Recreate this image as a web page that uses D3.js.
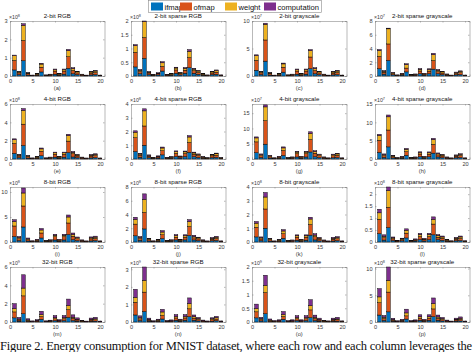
<!DOCTYPE html>
<html lang="en">
<head>
<meta charset="UTF-8">
<script src="https://d3js.org/d3.v7.min.js"></script>
<style>
  body {margin: 0; background: #fff;}
  svg {display: block; font-family: "Liberation Sans", Arial, sans-serif;}
  .axis path, .axis line {stroke: #8a8a8a; stroke-width: 0.6px;}
  .axis text {fill: #3a3a3a; font-size: 5.6px;}
  .caption {font-family: "Liberation Serif", "Times New Roman", serif; font-size: 12.5px; fill: #111;}
</style>
</head>
<body>
<svg id="chart" width="474" height="352"></svg>
<script>
// layers on the x axis
const layers = [1,2,3,4,5,6,7,8,9,10,11,12,13,14,15,16,17,18,19,20];
const keys = ['ifmap', 'ofmap', 'weight', 'computation'];
const colors = ['#0072BD', '#D95319', '#EDB120', '#7E2F8E'];

const titles = ['2-bit RGB', '2-bit sparse RGB', '2-bit grayscale', '2-bit sparse grayscale',
  '4-bit RGB', '4-bit sparse RGB', '4-bit grayscale', '4-bit sparse grayscale',
  '8-bit RGB', '8-bit sparse RGB', '8-bit grayscale', '8-bit sparse grayscale',
  '32-bit RGB', '32-bit sparse RGB', '32-bit grayscale', '32-bit sparse grayscale'];
const subLabels = ['(a)','(b)','(c)','(d)','(e)','(f)','(g)','(h)','(i)','(j)','(k)','(l)','(m)','(n)','(o)','(p)'];
const yMax = [3, 2, 10, 8, 6, 4, 18, 15, 11, 8, 4, 2.3, 6, 3.13, 2, 10.3];
const yTicks = [[0,1,2,3], [0,0.5,1,1.5,2], [0,5,10], [0,2,4,6,8],
  [0,2,4,6], [0,1,2,3,4], [0,5,10,15], [0,5,10,15],
  [0,5,10], [0,2,4,6,8], [0,1,2,3,4], [0,0.5,1,1.5,2],
  [0,2,4,6], [0,1,2,3], [0,0.5,1,1.5,2], [0,5,10]];
const yExp = [8, 8, 7, 7, 8, 8, 7, 7, 8, 8, 8, 8, 9, 9, 9, 8];
const xTicks = [0, 5, 10, 15, 20];

// (a) 2-bit RGB
const a_ifmap  = [0.33,0.08,0.83,0.05,0.02,0.04,0.22,0.02,0.03,0.10,0.04,0.10,0.42,0.12,0.07,0.03,0.01,0.06,0.07,0.01];
const a_ofmap  = [0.52,0.09,1.11,0.07,0.01,0.05,0.26,0.02,0.04,0.17,0.05,0.17,0.63,0.18,0.10,0.04,0.02,0.10,0.12,0.02];
const a_weight = [0.26,0.05,0.83,0.04,0.01,0.03,0.17,0.01,0.02,0.08,0.03,0.08,0.33,0.10,0.06,0.02,0.01,0.06,0.08,0.01];
const a_comp   = [0.03,0.02,0.08,0.02,0.01,0.01,0.04,0.01,0.01,0.03,0.01,0.03,0.07,0.05,0.02,0.01,0.01,0.03,0.03,0.01];
// (b) 2-bit sparse RGB
const b_ifmap  = [0.33,0.08,0.64,0.05,0.02,0.04,0.18,0.02,0.03,0.10,0.04,0.10,0.30,0.10,0.06,0.03,0.01,0.05,0.06,0.01];
const b_ofmap  = [0.53,0.08,0.76,0.06,0.01,0.04,0.17,0.02,0.03,0.12,0.04,0.11,0.37,0.09,0.07,0.03,0.01,0.06,0.08,0.01];
const b_weight = [0.24,0.05,0.58,0.03,0.01,0.02,0.13,0.01,0.02,0.07,0.03,0.07,0.23,0.06,0.05,0.02,0.01,0.04,0.06,0.01];
const b_comp   = [0.04,0.03,0.04,0.02,0.01,0.02,0.04,0.01,0.01,0.03,0.01,0.03,0.06,0.03,0.02,0.01,0.01,0.02,0.02,0.01];
// (c) 2-bit grayscale
const c_ifmap  = [1.05,0.27,2.70,0.17,0.06,0.13,0.70,0.07,0.10,0.33,0.13,0.33,1.35,0.40,0.23,0.10,0.04,0.20,0.23,0.04];
const c_ofmap  = [1.80,0.30,3.85,0.23,0.04,0.17,0.90,0.07,0.13,0.57,0.17,0.57,2.10,0.60,0.33,0.13,0.07,0.33,0.40,0.07];
const c_weight = [0.85,0.17,2.85,0.14,0.03,0.10,0.60,0.04,0.07,0.27,0.10,0.27,1.15,0.33,0.20,0.07,0.03,0.20,0.27,0.03];
const c_comp   = [0.15,0.08,0.20,0.06,0.03,0.04,0.15,0.03,0.04,0.10,0.04,0.10,0.20,0.17,0.07,0.04,0.03,0.10,0.10,0.03];
// (d) 2-bit sparse grayscale
const d_ifmap  = [1.05,0.27,2.26,0.17,0.06,0.13,0.60,0.07,0.10,0.33,0.13,0.33,1.00,0.33,0.20,0.10,0.04,0.17,0.20,0.04];
const d_ofmap  = [1.80,0.28,2.40,0.20,0.04,0.14,0.55,0.06,0.10,0.40,0.14,0.38,1.25,0.30,0.23,0.10,0.04,0.20,0.28,0.04];
const d_weight = [0.85,0.15,2.20,0.10,0.03,0.08,0.50,0.04,0.06,0.25,0.08,0.24,0.85,0.20,0.17,0.06,0.03,0.13,0.20,0.03];
const d_comp   = [0.15,0.08,0.10,0.06,0.03,0.05,0.13,0.03,0.04,0.10,0.04,0.10,0.20,0.12,0.07,0.04,0.03,0.07,0.07,0.03];
// (e) 4-bit RGB
const e_ifmap  = [0.62,0.15,1.47,0.10,0.04,0.08,0.35,0.04,0.06,0.20,0.08,0.20,0.70,0.22,0.13,0.06,0.03,0.12,0.14,0.03];
const e_ofmap  = [1.08,0.18,2.33,0.15,0.03,0.10,0.50,0.04,0.08,0.33,0.10,0.33,1.25,0.35,0.20,0.08,0.04,0.20,0.23,0.04];
const e_weight = [0.40,0.10,1.50,0.07,0.02,0.05,0.25,0.02,0.04,0.15,0.05,0.15,0.60,0.15,0.10,0.04,0.02,0.10,0.13,0.02];
const e_comp   = [0.10,0.07,0.20,0.05,0.03,0.04,0.10,0.03,0.03,0.07,0.04,0.07,0.15,0.10,0.05,0.03,0.02,0.06,0.07,0.02];
// (f) 4-bit sparse RGB
const f_ifmap  = [0.55,0.13,1.00,0.09,0.04,0.07,0.30,0.04,0.05,0.18,0.07,0.18,0.48,0.17,0.11,0.05,0.02,0.10,0.12,0.02];
const f_ofmap  = [1.00,0.15,1.40,0.11,0.02,0.08,0.30,0.03,0.06,0.23,0.08,0.22,0.72,0.17,0.14,0.06,0.03,0.13,0.16,0.03];
const f_weight = [0.40,0.08,1.10,0.05,0.02,0.04,0.20,0.02,0.03,0.12,0.04,0.12,0.40,0.10,0.08,0.03,0.02,0.07,0.10,0.02];
const f_comp   = [0.10,0.06,0.15,0.05,0.02,0.04,0.07,0.02,0.03,0.06,0.03,0.06,0.10,0.06,0.04,0.03,0.02,0.04,0.05,0.02];
// (g) 4-bit grayscale
const g_ifmap  = [2.05,0.50,4.85,0.33,0.13,0.26,1.15,0.13,0.20,0.66,0.26,0.66,2.30,0.73,0.43,0.20,0.10,0.40,0.46,0.10];
const g_ofmap  = [3.55,0.60,7.70,0.50,0.10,0.33,1.65,0.13,0.26,1.10,0.33,1.10,4.10,1.15,0.66,0.26,0.13,0.66,0.76,0.13];
const g_weight = [1.30,0.33,4.50,0.23,0.07,0.17,0.83,0.07,0.13,0.50,0.17,0.50,2.00,0.50,0.33,0.13,0.07,0.33,0.43,0.07];
const g_comp   = [0.33,0.23,0.66,0.17,0.10,0.13,0.33,0.10,0.10,0.23,0.13,0.23,0.50,0.33,0.17,0.10,0.07,0.20,0.23,0.07];
// (h) 4-bit sparse grayscale
const h_ifmap  = [1.80,0.43,3.30,0.30,0.13,0.23,1.00,0.13,0.17,0.60,0.23,0.60,1.60,0.56,0.36,0.17,0.07,0.33,0.40,0.07];
const h_ofmap  = [3.30,0.50,4.60,0.36,0.07,0.26,1.00,0.10,0.20,0.76,0.26,0.73,2.40,0.56,0.46,0.20,0.10,0.43,0.53,0.10];
const h_weight = [1.30,0.26,3.60,0.17,0.07,0.13,0.66,0.07,0.10,0.40,0.13,0.40,1.30,0.33,0.26,0.10,0.07,0.23,0.33,0.07];
const h_comp   = [0.33,0.20,0.50,0.17,0.07,0.13,0.23,0.07,0.10,0.20,0.10,0.20,0.33,0.20,0.13,0.10,0.07,0.13,0.17,0.07];
// (i) 8-bit RGB
const i_ifmap  = [1.10,0.30,3.00,0.20,0.08,0.15,0.80,0.08,0.12,0.40,0.15,0.40,1.50,0.45,0.25,0.12,0.05,0.22,0.27,0.05];
const i_ofmap  = [2.10,0.35,4.20,0.30,0.06,0.20,1.00,0.08,0.15,0.65,0.20,0.65,2.30,0.70,0.40,0.15,0.08,0.40,0.45,0.08];
const i_weight = [0.90,0.25,2.60,0.15,0.04,0.10,0.60,0.05,0.08,0.30,0.10,0.30,1.20,0.35,0.20,0.08,0.04,0.20,0.25,0.04];
const i_comp   = [0.35,0.20,1.00,0.15,0.06,0.10,0.30,0.06,0.10,0.20,0.10,0.20,0.40,0.30,0.15,0.08,0.05,0.20,0.20,0.05];
// (j) 8-bit sparse RGB
const j_ifmap  = [0.90,0.25,1.90,0.15,0.06,0.12,0.50,0.06,0.10,0.30,0.12,0.30,0.95,0.30,0.20,0.10,0.04,0.18,0.22,0.04];
const j_ofmap  = [1.70,0.25,2.40,0.20,0.04,0.13,0.55,0.06,0.10,0.40,0.13,0.38,1.30,0.30,0.25,0.10,0.05,0.23,0.30,0.05];
const j_weight = [0.70,0.15,1.90,0.10,0.03,0.07,0.40,0.04,0.06,0.22,0.07,0.22,0.70,0.18,0.15,0.06,0.03,0.13,0.18,0.03];
const j_comp   = [0.30,0.15,0.80,0.10,0.04,0.07,0.20,0.04,0.07,0.15,0.07,0.15,0.30,0.20,0.10,0.06,0.04,0.12,0.13,0.04];
// (k) 8-bit grayscale
const k_ifmap  = [0.37,0.10,1.00,0.07,0.03,0.05,0.27,0.03,0.04,0.13,0.05,0.13,0.50,0.15,0.08,0.04,0.02,0.07,0.09,0.02];
const k_ofmap  = [0.70,0.12,1.40,0.10,0.02,0.07,0.33,0.03,0.05,0.22,0.07,0.22,0.77,0.23,0.13,0.05,0.03,0.13,0.15,0.03];
const k_weight = [0.30,0.08,0.87,0.05,0.01,0.03,0.20,0.02,0.03,0.10,0.03,0.10,0.40,0.12,0.07,0.03,0.01,0.07,0.08,0.01];
const k_comp   = [0.12,0.07,0.33,0.05,0.02,0.03,0.10,0.02,0.03,0.07,0.03,0.07,0.13,0.10,0.05,0.03,0.02,0.07,0.07,0.02];
// (l) 8-bit sparse grayscale
const l_ifmap  = [0.35,0.08,0.60,0.06,0.02,0.05,0.17,0.02,0.04,0.10,0.04,0.10,0.30,0.10,0.07,0.03,0.01,0.05,0.06,0.01];
const l_ofmap  = [0.60,0.10,0.85,0.07,0.02,0.05,0.20,0.02,0.04,0.13,0.05,0.13,0.45,0.10,0.09,0.04,0.02,0.07,0.09,0.02];
const l_weight = [0.27,0.06,0.70,0.04,0.01,0.03,0.12,0.01,0.02,0.08,0.03,0.08,0.20,0.06,0.05,0.02,0.01,0.04,0.06,0.01];
const l_comp   = [0.15,0.06,0.15,0.04,0.02,0.03,0.06,0.02,0.03,0.05,0.03,0.05,0.10,0.05,0.04,0.02,0.01,0.03,0.04,0.01];
// (m) 32-bit RGB
const m_ifmap  = [0.45,0.10,0.90,0.07,0.03,0.05,0.30,0.03,0.04,0.14,0.05,0.14,0.50,0.15,0.09,0.04,0.02,0.08,0.10,0.02];
const m_ofmap  = [0.65,0.12,1.95,0.09,0.02,0.07,0.30,0.03,0.05,0.22,0.07,0.22,0.85,0.25,0.13,0.05,0.03,0.13,0.15,0.03];
const m_weight = [0.35,0.10,0.85,0.06,0.02,0.04,0.20,0.02,0.03,0.10,0.04,0.10,0.45,0.12,0.07,0.03,0.01,0.07,0.09,0.01];
const m_comp   = [0.55,0.18,1.45,0.13,0.05,0.10,0.37,0.05,0.08,0.24,0.10,0.24,0.70,0.26,0.16,0.06,0.04,0.15,0.17,0.04];
// (n) 32-bit sparse RGB
const n_ifmap  = [0.40,0.08,0.60,0.05,0.02,0.04,0.17,0.02,0.03,0.10,0.04,0.10,0.30,0.10,0.06,0.03,0.01,0.05,0.07,0.01];
const n_ofmap  = [0.72,0.10,1.10,0.06,0.01,0.04,0.20,0.02,0.03,0.13,0.04,0.13,0.45,0.12,0.08,0.03,0.02,0.08,0.10,0.02];
const n_weight = [0.28,0.07,0.67,0.04,0.01,0.03,0.20,0.01,0.02,0.08,0.03,0.08,0.30,0.08,0.05,0.02,0.01,0.05,0.07,0.01];
const n_comp   = [0.46,0.10,0.76,0.07,0.03,0.05,0.15,0.03,0.04,0.11,0.05,0.11,0.32,0.10,0.07,0.03,0.02,0.06,0.08,0.02];
// (o) 32-bit grayscale
const o_ifmap  = [0.15,0.04,0.30,0.02,0.01,0.02,0.10,0.01,0.02,0.05,0.02,0.05,0.16,0.05,0.03,0.01,0.01,0.03,0.03,0.01];
const o_ofmap  = [0.22,0.05,0.77,0.03,0.01,0.02,0.10,0.01,0.02,0.07,0.02,0.07,0.28,0.08,0.04,0.02,0.01,0.04,0.05,0.01];
const o_weight = [0.12,0.03,0.26,0.02,0.01,0.01,0.07,0.01,0.01,0.04,0.01,0.04,0.15,0.04,0.02,0.01,0.01,0.02,0.03,0.01];
const o_comp   = [0.16,0.05,0.37,0.04,0.02,0.03,0.11,0.02,0.03,0.07,0.03,0.07,0.22,0.08,0.05,0.02,0.01,0.05,0.06,0.01];
// (p) 32-bit sparse grayscale
const p_ifmap  = [1.30,0.30,1.90,0.15,0.06,0.12,0.55,0.06,0.10,0.33,0.12,0.33,1.00,0.33,0.20,0.10,0.04,0.17,0.20,0.04];
const p_ofmap  = [2.30,0.35,3.70,0.20,0.04,0.14,0.60,0.06,0.10,0.40,0.14,0.40,1.45,0.35,0.25,0.10,0.05,0.22,0.30,0.05];
const p_weight = [1.10,0.25,2.20,0.12,0.03,0.08,0.55,0.04,0.06,0.25,0.08,0.25,1.00,0.25,0.17,0.06,0.03,0.13,0.20,0.03];
const p_comp   = [1.55,0.30,2.50,0.23,0.10,0.16,0.70,0.10,0.14,0.37,0.16,0.37,1.05,0.37,0.23,0.10,0.06,0.20,0.25,0.06];

const panelSeries = [
  [a_ifmap, a_ofmap, a_weight, a_comp], [b_ifmap, b_ofmap, b_weight, b_comp],
  [c_ifmap, c_ofmap, c_weight, c_comp], [d_ifmap, d_ofmap, d_weight, d_comp],
  [e_ifmap, e_ofmap, e_weight, e_comp], [f_ifmap, f_ofmap, f_weight, f_comp],
  [g_ifmap, g_ofmap, g_weight, g_comp], [h_ifmap, h_ofmap, h_weight, h_comp],
  [i_ifmap, i_ofmap, i_weight, i_comp], [j_ifmap, j_ofmap, j_weight, j_comp],
  [k_ifmap, k_ofmap, k_weight, k_comp], [l_ifmap, l_ofmap, l_weight, l_comp],
  [m_ifmap, m_ofmap, m_weight, m_comp], [n_ifmap, n_ofmap, n_weight, n_comp],
  [o_ifmap, o_ofmap, o_weight, o_comp], [p_ifmap, p_ofmap, p_weight, p_comp]];

// layout of the 4x4 grid
const colX = [10, 131, 252, 375];
const rowTop = [21, 104, 187, 267];
const plotW = 94.5, plotH = 55;

const svg = d3.select('#chart');

panelSeries.forEach((series, p) => {
  const x0 = colX[p % 4], y0 = rowTop[Math.floor(p / 4)];
  const g = svg.append('g');

  const x = d3.scaleLinear().domain([0, 21]).range([x0, x0 + plotW]);
  const y = d3.scaleLinear().domain([0, yMax[p]]).range([y0 + plotH, y0]);

  const table = layers.map((l, i) => {
    const row = {layer: l};
    keys.forEach((k, s) => row[k] = series[s][i]);
    return row;
  });
  const stacked = d3.stack().keys(keys)(table);

  // box + ticks
  g.append('g').attr('class', 'axis')
    .attr('transform', `translate(0,${y0 + plotH})`)
    .call(d3.axisBottom(x).tickValues(xTicks).tickSize(-1.5).tickPadding(3).tickFormat(d => d));
  g.append('g').attr('class', 'axis')
    .attr('transform', `translate(0,${y0})`)
    .call(d3.axisTop(x).tickValues(xTicks).tickSize(-1.5).tickFormat(''));
  g.append('g').attr('class', 'axis')
    .attr('transform', `translate(${x0},0)`)
    .call(d3.axisLeft(y).tickValues(yTicks[p]).tickSize(-1.5).tickPadding(2.5).tickFormat(d => d));
  g.append('g').attr('class', 'axis')
    .attr('transform', `translate(${x0 + plotW},0)`)
    .call(d3.axisRight(y).tickValues(yTicks[p]).tickSize(-1.5).tickFormat(''));

  const bw = x(0.8) - x(0);
  g.selectAll('g.layer').data(stacked).enter().append('g')
    .attr('fill', (d, s) => colors[s])
    .selectAll('rect').data(d => d).enter().append('rect')
    .attr('x', d => x(d.data.layer) - bw / 2)
    .attr('width', bw)
    .attr('y', d => y(Math.min(d[1], yMax[p])))
    .attr('height', d => Math.max(0, y(d[0]) - y(Math.min(d[1], yMax[p]))))
    .attr('stroke', '#000').attr('stroke-width', 0.45);

  g.append('text').attr('x', x0 + plotW / 2).attr('y', y0 - 3)
    .attr('text-anchor', 'middle').attr('font-size', 6.2).attr('fill', '#111')
    .text(titles[p]);

  const ex = g.append('text').attr('x', x0 - 1).attr('y', y0 - 2)
    .attr('font-size', 5.2).attr('fill', '#3a3a3a').text('×10');
  ex.append('tspan').attr('dy', -2).attr('font-size', 3.8).text(yExp[p]);

  g.append('text').attr('x', x0 + plotW / 2).attr('y', y0 + plotH + 14)
    .attr('text-anchor', 'middle').attr('font-size', 5.8).attr('fill', '#3a3a3a')
    .text(subLabels[p]);
});

// legend
const leg = svg.append('g');
leg.append('rect').attr('x', 148.5).attr('y', 0.5).attr('width', 173).attr('height', 12)
  .attr('fill', '#fff').attr('stroke', '#8a8a8a').attr('stroke-width', 0.6);
const legX = [151, 180, 225, 264];
keys.forEach((k, s) => {
  leg.append('rect').attr('x', legX[s]).attr('y', 2.5).attr('width', 12).attr('height', 8)
    .attr('fill', colors[s]);
  leg.append('text').attr('x', legX[s] + 13.5).attr('y', 9.8)
    .attr('font-size', 7.6).attr('fill', '#111').text(k);
});

svg.append('text').attr('class', 'caption').attr('x', 0).attr('y', 350)
  .attr('textLength', 472).attr('lengthAdjust', 'spacing')
  .text('Figure 2. Energy consumption for MNIST dataset, where each row and each column leverages the');
</script>
</body>
</html>
